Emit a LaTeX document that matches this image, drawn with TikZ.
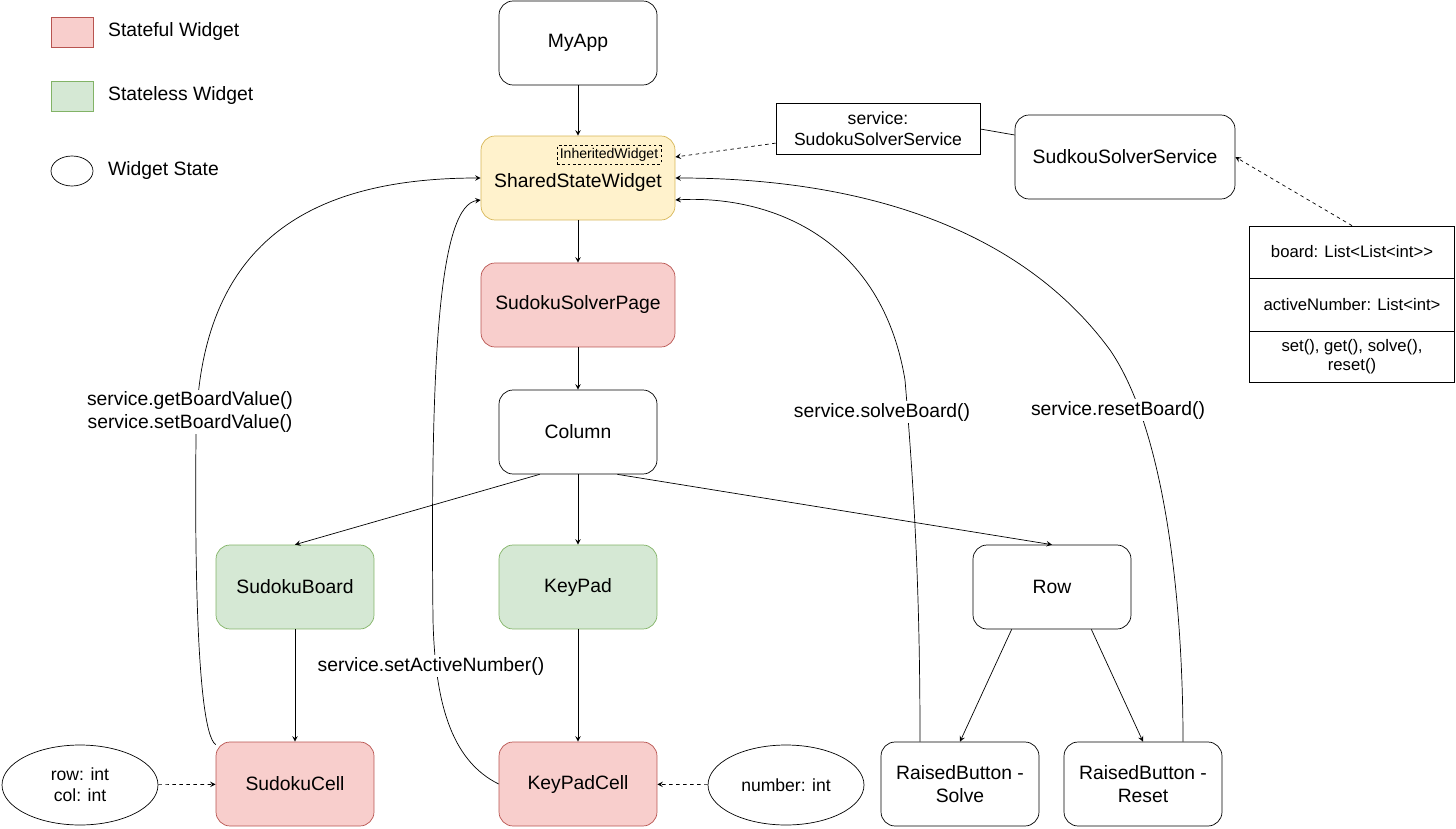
\documentclass[tikz,border=0pt]{standalone}
\usepackage{fontspec}
\setmainfont{Liberation Sans}
\usetikzlibrary{shapes.geometric}
\definecolor{redfill}{HTML}{F8CECC}
\definecolor{redline}{HTML}{B85450}
\definecolor{greenfill}{HTML}{D5E8D4}
\definecolor{greenline}{HTML}{82B366}
\definecolor{yellowfill}{HTML}{FFF2CC}
\definecolor{yellowline}{HTML}{D6B656}
\tikzset{
  widget/.style={draw, rounded corners=8pt, minimum width=3.16cm, minimum height=1.68cm, align=center, font=\fontsize{11}{13}\selectfont},
  stateful/.style={widget, fill=redfill, draw=redline},
  stateless/.style={widget, fill=greenfill, draw=greenline},
  state/.style={draw, ellipse, minimum width=3.12cm, minimum height=1.6cm, align=center, font=\fontsize{10}{12}\selectfont},
  lbl/.style={fill=white, inner sep=1pt, align=center, font=\fontsize{11}{13}\selectfont},
  arr/.style={->, >=stealth},
  darr/.style={->, >=stealth, dash pattern=on 2pt off 2pt}
}
\begin{document}
\begin{tikzpicture}[x=0.02cm, y=-0.02cm]
    \useasboundingbox (0,0) rectangle (1456,828);

    % Legend
    \node[draw=redline, fill=redfill, minimum width=0.84cm, minimum height=0.6cm] (lgred) at (72,32) {};
    \node[right, font=\fontsize{11}{13}\selectfont] at (102,32) {Stateful Widget};
    \node[draw=greenline, fill=greenfill, minimum width=0.84cm, minimum height=0.6cm] (lggreen) at (72,96) {};
    \node[right, font=\fontsize{11}{13}\selectfont] at (102,96) {Stateless Widget};
    \node[draw, ellipse, minimum width=0.84cm, minimum height=0.6cm] (lgstate) at (72,171) {};
    \node[right, font=\fontsize{11}{13}\selectfont] at (102,171) {Widget State};

    % Widget tree
    \node[widget] (myapp) at (578,43) {MyApp};
    \node[widget, minimum width=3.88cm, fill=yellowfill, draw=yellowline] (shared) at (578,178) {\\[0pt]SharedStateWidget};
    \node[draw, dash pattern=on 1.5pt off 1.5pt, inner sep=1.5pt, font=\fontsize{8}{9}\selectfont] (inherited) at (609,155) {InheritedWidget};
    \node[stateful, minimum width=3.88cm] (page) at (578,305) {SudokuSolverPage};
    \node[widget] (column) at (578,432) {Column};
    \node[stateless] (board) at (295,587) {SudokuBoard};
    \node[stateless] (keypad) at (578,587) {KeyPad};
    \node[widget] (row) at (1052,587) {Row};
    \node[stateful] (cell) at (295,784) {SudokuCell};
    \node[stateful] (keycell) at (578,784) {KeyPadCell};
    \node[widget] (solve) at (960,784) {RaisedButton -\\Solve};
    \node[widget] (reset) at (1143,784) {RaisedButton -\\Reset};

    % States
    \node[state] (cellstate) at (80,785) {row: int\\col: int};
    \node[state] (keystate) at (786,785) {number: int};

    % Service
    \node[draw, minimum width=4.08cm, minimum height=1.02cm, align=center, font=\fontsize{10}{12}\selectfont] (field) at (878,129) {service:\\SudokuSolverService};
    \node[widget, minimum width=4.4cm] (service) at (1125,157) {SudkouSolverService};
    \node[draw, minimum width=4.1cm, minimum height=1.04cm, font=\fontsize{9.5}{11}\selectfont] (cboard) at (1352,252) {board: List<List<int>{}>};
    \node[draw, minimum width=4.1cm, minimum height=1.06cm, font=\fontsize{9.5}{11}\selectfont] (cactive) at (1352,304.5) {activeNumber: List<int>};
    \node[draw, minimum width=4.1cm, minimum height=1.02cm, align=center, font=\fontsize{9.5}{11}\selectfont] (cmeth) at (1352,356.5) {set(), get(), solve(),\\reset()};

    % Tree edges
    \draw[arr] (myapp) -- (shared);
    \draw[arr] (shared) -- (page);
    \draw[arr] (page) -- (column);
    \draw[arr] (column) -- (keypad);
    \draw[arr] (column.south west) ++(41,0) -- (board.north);
    \draw[arr] (column.south east) ++(-40,0) -- (row.north);
    \draw[arr] (board) -- (cell);
    \draw[arr] (keypad) -- (keycell);
    \draw[arr] (row.south west) ++(39,0) -- (solve.north);
    \draw[arr] (row.south east) ++(-40,0) -- (reset.north);

    % State and service links
    \draw[darr] (cellstate) -- (cell);
    \draw[darr] (keystate) -- (keycell);
    \draw[darr] (field) -- (shared.east |- 0,157);
    \draw (field.east) ++(0,0) -- (service.west |- 0,135);
    \draw[darr] (cboard.north) -- (service.east);

    % Calls back to the shared state
    \draw[arr] (cell.north west) ++(0,3) .. controls (195,730) and (195,520) .. (196,440)
        .. controls (196,250) and (300,178) .. (shared.west);
    \draw[arr] (keycell.west) .. controls (450,760) and (435,700) .. (433,620)
        .. controls (430,350) and (440,205) .. (shared.west |- 0,200);
    \draw[arr] (solve.north) ++(-40,0) .. controls (920,600) and (915,500) .. (905,380)
        .. controls (880,230) and (760,195) .. (shared.east |- 0,200);
    \draw[arr] (reset.north) ++(40,0) .. controls (1183,600) and (1165,430) .. (1110,350)
        .. controls (1000,200) and (800,178) .. (shared.east);

    % Labels
    \node[lbl] (lcell) at (190,412) {service.getBoardValue()\\service.setBoardValue()};
    \node[lbl] (lkey) at (431,666) {service.setActiveNumber()};
    \node[lbl] (lsolve) at (882,412) {service.solveBoard()};
    \node[lbl] (lreset) at (1118,410) {service.resetBoard()};
\end{tikzpicture}
\end{document}
